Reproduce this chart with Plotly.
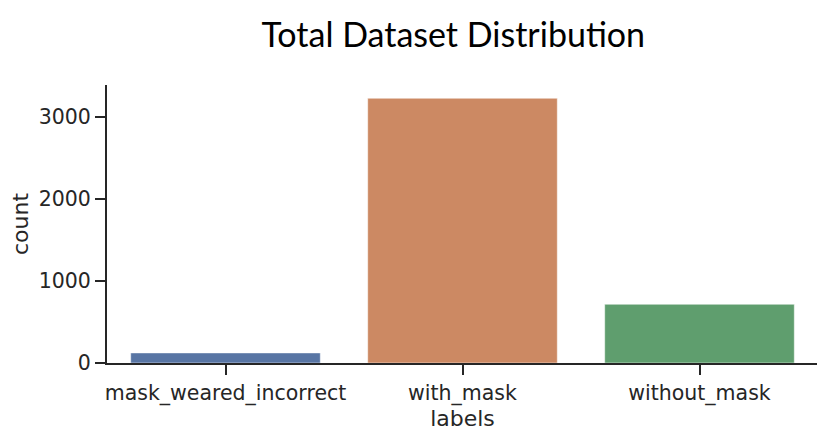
import plotly.graph_objects as go

labels = ["mask_weared_incorrect", "with_mask", "without_mask"]
counts = [123, 3232, 717]
colors = ["#5875a4", "#cc8963", "#5f9e6e"]
y_ticks = [0, 1000, 2000, 3000]

INK = "#262626"
FONT = "DejaVu Sans"

fig = go.Figure(go.Bar(
    x=list(range(len(labels))), y=counts,
    marker=dict(color=colors, line=dict(color="rgba(255,255,255,0.5)", width=1)),
    width=0.8,
))

# page body has an 8px margin, so the figure is 8px smaller than the window
fig.update_layout(
    width=817, height=431,
    paper_bgcolor="white", plot_bgcolor="white",
    margin=dict(l=99, r=7, t=77, b=76),
    showlegend=False,
    title=dict(
        text="Total Dataset Distribution",
        x=0.545, xanchor="center", y=0.938, yanchor="middle",
        font=dict(family="Lato, Open Sans", size=34, color="black"),
    ),
    font=dict(family=FONT, color=INK),
)
fig.update_xaxes(
    range=[-0.5, 2.5],
    tickvals=list(range(len(labels))), ticktext=labels,
    ticks="outside", ticklen=10, tickwidth=2, tickcolor=INK,
    tickfont=dict(size=20.5, color=INK),
    showline=True, linecolor=INK, linewidth=2,
    showgrid=False, zeroline=False,
    title=dict(text="labels", font=dict(size=22, color=INK), standoff=0),
)
fig.update_yaxes(
    range=[0, max(counts) * 1.05],
    tickvals=y_ticks,
    ticks="outside", ticklen=10, tickwidth=2, tickcolor=INK,
    tickfont=dict(size=20.5, color=INK),
    showline=True, linecolor=INK, linewidth=2,
    showgrid=False, zeroline=False,
    title=dict(text="count", font=dict(size=22, color=INK), standoff=6),
)

fig.write_html("out.html")
